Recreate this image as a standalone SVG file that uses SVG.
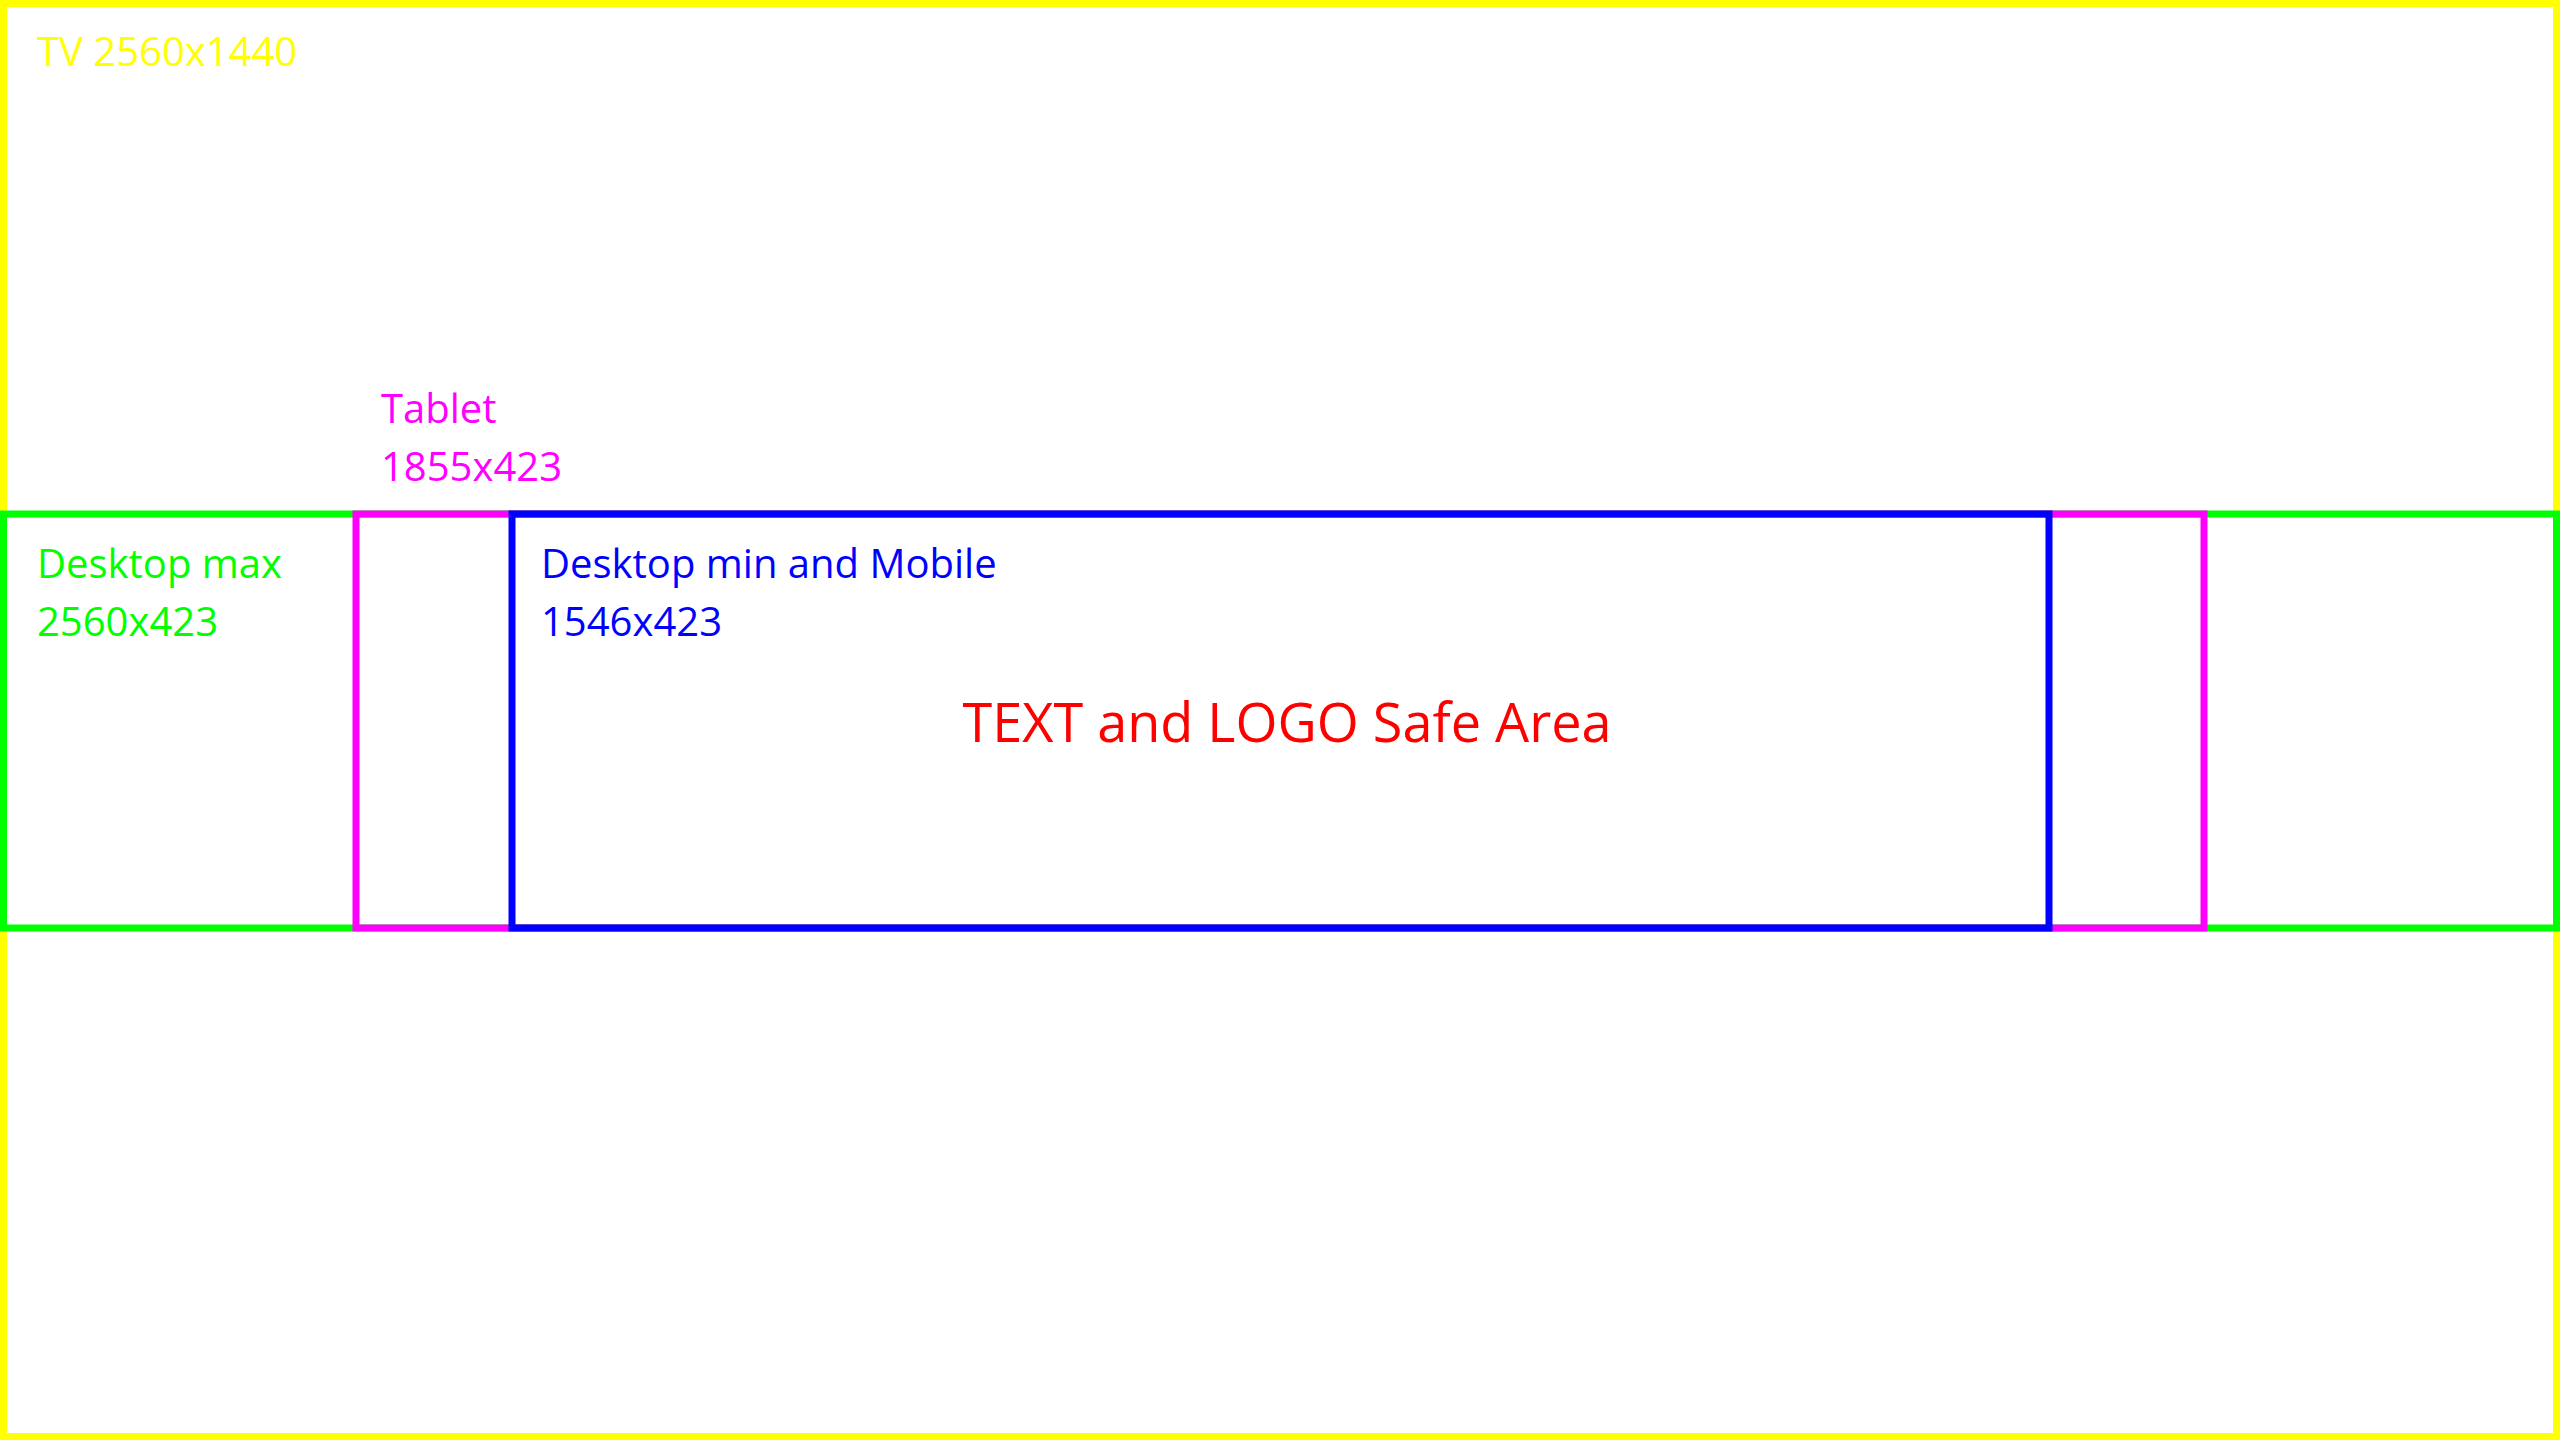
<svg xmlns="http://www.w3.org/2000/svg" width="2560" height="1440" viewBox="0 0 2560 1440">
<style>
.b{fill:none;stroke-width:7}
text{font-family:"Open Sans","Liberation Sans",sans-serif;font-size:40px}
</style>
<rect width="2560" height="1440" fill="#fff"/>
<g id="tv"><rect class="b" x="3.5" y="3.5" width="2553" height="1433" stroke="#ffff00"/>
<text x="37" y="66" fill="#ffff00">TV 2560x1440</text></g>
<g id="desktop-max"><rect class="b" x="3.5" y="514" width="2553" height="414" stroke="#00ff00"/>
<text x="37" y="578" fill="#00ff00">Desktop max</text><text x="37" y="636" fill="#00ff00">2560x423</text></g>
<g id="tablet"><rect class="b" x="356" y="514" width="1848" height="414" fill="#fff" stroke="#ff00ff"/>
<text x="381" y="423" fill="#ff00ff">Tablet</text><text x="381" y="481" fill="#ff00ff">1855x423</text></g>
<g id="desktop-min"><rect class="b" x="512" y="514" width="1537" height="414" fill="#fff" stroke="#0000ff"/>
<text x="541" y="578" fill="#0000ff">Desktop min and Mobile</text><text x="541" y="636" fill="#0000ff">1546x423</text>
<text x="1287" y="742" fill="#ff0000" font-size="54" style="font-size:54px" text-anchor="middle">TEXT and LOGO Safe Area</text></g>
<g id="connectors"/>
</svg>
